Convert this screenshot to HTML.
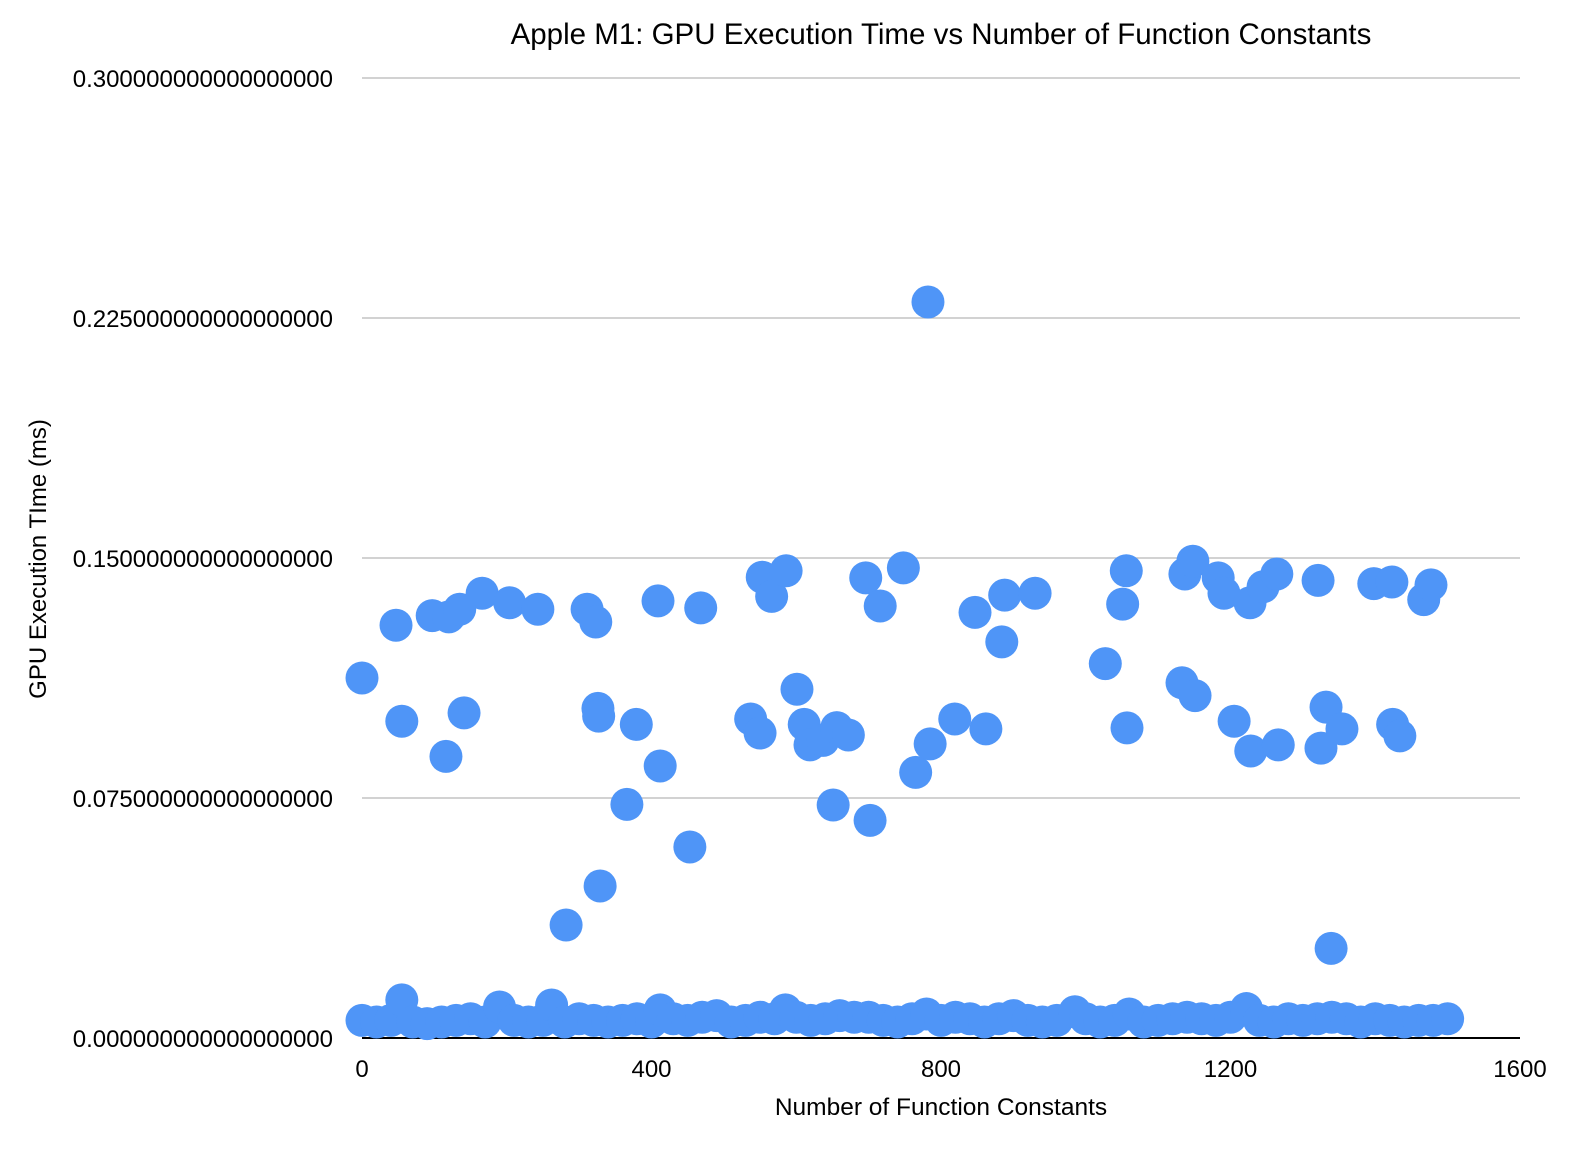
<!DOCTYPE html>
<html><head><meta charset="utf-8"><style>
html,body{margin:0;padding:0;background:#fff;}
svg{display:block;font-family:"Liberation Sans",Arial,sans-serif;}
</style></head><body>
<svg id="chart" width="1590" height="1162" viewBox="0 0 1590 1162">
<text x="941" y="44" text-anchor="middle" font-size="29.5" fill="#000">Apple M1: GPU Execution Time vs Number of Function Constants</text>
<g id="grid"></g>
<g id="yticks"></g>
<g id="xticks"></g>
<line x1="362" y1="1038" x2="1520" y2="1038" stroke="#000" stroke-width="2"/>
<g id="points"></g>
<text x="941" y="1115" text-anchor="middle" font-size="24.5" fill="#000">Number of Function Constants</text>
<text transform="translate(46,559) rotate(-90)" text-anchor="middle" font-size="24" fill="#000">GPU Execution TIme (ms)</text>
</svg>
<script>
const yTicks = [0, 0.075, 0.15, 0.225, 0.3];
const yTickLabels = ["0.000000000000000000","0.075000000000000000","0.150000000000000000","0.225000000000000000","0.300000000000000000"];
const xTicks = [0, 400, 800, 1200, 1600];
const xTickLabels = ["0","400","800","1200","1600"];
const highX = [0,47,55,97,116,120,135,141,166,204,243,282,311,323,326,327,329,366,379,409,412,453,468,537,550,553,566,586,601,611,619,637,651,656,672,696,702,716,748,765,782,785,819,847,862,884,888,930,1027,1051,1056,1057,1133,1137,1151,1148,1183,1191,1205,1227,1228,1245,1264,1266,1321,1325,1332,1339,1354,1398,1423,1424,1434,1467,1477];
const highY = [0.1125,0.129,0.099,0.132,0.088,0.1316,0.134,0.1016,0.139,0.136,0.134,0.0353,0.134,0.130,0.103,0.1006,0.0475,0.073,0.098,0.1366,0.085,0.0597,0.1344,0.0997,0.0953,0.144,0.138,0.146,0.109,0.098,0.0916,0.093,0.0728,0.097,0.0947,0.1438,0.068,0.135,0.1469,0.083,0.23,0.0919,0.0997,0.133,0.0966,0.1238,0.1384,0.139,0.117,0.1356,0.146,0.0969,0.111,0.145,0.107,0.149,0.1438,0.139,0.099,0.136,0.0897,0.141,0.145,0.0916,0.143,0.0906,0.1034,0.028,0.0966,0.142,0.1425,0.098,0.0944,0.137,0.1416];
const lowX = [0,20,40,55,70,90,110,130,150,170,190,210,230,250,262,280,300,320,340,360,380,400,412,430,450,470,490,510,530,550,570,585,600,620,640,660,680,700,720,740,760,780,800,820,840,860,880,900,920,940,960,985,1000,1020,1040,1060,1080,1100,1120,1140,1160,1180,1200,1222,1240,1260,1280,1300,1320,1340,1360,1380,1400,1420,1440,1460,1480,1500];
const lowY = [0.0055,0.005,0.0055,0.0119,0.005,0.0045,0.005,0.0055,0.006,0.005,0.0097,0.0055,0.005,0.0055,0.0103,0.005,0.006,0.0055,0.005,0.0055,0.006,0.005,0.0088,0.006,0.0055,0.0065,0.007,0.005,0.0055,0.0065,0.006,0.0088,0.0065,0.0055,0.006,0.007,0.0065,0.0065,0.0055,0.005,0.006,0.0075,0.0055,0.0065,0.006,0.005,0.006,0.007,0.0055,0.005,0.0055,0.0082,0.006,0.005,0.0055,0.0075,0.005,0.0055,0.006,0.0065,0.006,0.0055,0.0065,0.0092,0.0055,0.005,0.006,0.0055,0.006,0.0065,0.006,0.005,0.006,0.0055,0.005,0.0055,0.0055,0.006];
const NS = "http://www.w3.org/2000/svg";
function xs(v){ return 362 + v/1600*1158; }
function ys(v){ return 1038 - v/0.3*960; }
const grid = document.getElementById('grid'), yt = document.getElementById('yticks'), xt = document.getElementById('xticks'), pts = document.getElementById('points');
yTicks.forEach((t,i)=>{
  if(t>0){
    const l=document.createElementNS(NS,'line');
    l.setAttribute('x1',362);l.setAttribute('x2',1520);
    l.setAttribute('y1',ys(t));l.setAttribute('y2',ys(t));
    l.setAttribute('stroke','#b8b8b8');l.setAttribute('stroke-width','1.2');
    
    
    grid.appendChild(l);
  }
  const tx=document.createElementNS(NS,'text');
  tx.setAttribute('x',333);tx.setAttribute('y',ys(t)+9);
  tx.setAttribute('text-anchor','end');tx.setAttribute('font-size','24');
  tx.textContent=yTickLabels[i];
  
  
  yt.appendChild(tx);
});
xTicks.forEach((t,i)=>{
  const tx=document.createElementNS(NS,'text');
  tx.setAttribute('x',xs(t));tx.setAttribute('y',1077);
  tx.setAttribute('text-anchor','middle');tx.setAttribute('font-size','24');
  tx.textContent=xTickLabels[i];
  
  
  xt.appendChild(tx);
});
function dot(x,y){
  const c=document.createElementNS(NS,'circle');
  c.setAttribute('cx',xs(x));c.setAttribute('cy',ys(y));c.setAttribute('r',16.5);
  c.setAttribute('fill','#4f95f7');
  
  
  pts.appendChild(c);
}
lowX.forEach((x,i)=>dot(x,lowY[i]));
highX.forEach((x,i)=>dot(x,highY[i]));
</script>
</body></html>
